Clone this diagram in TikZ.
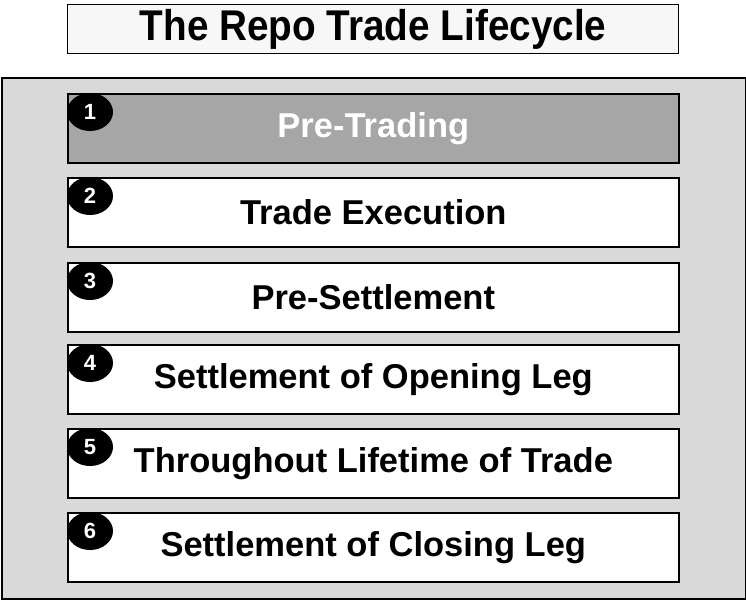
\documentclass[tikz,border=0pt]{standalone}
\usepackage{fontspec}
\setmainfont{Liberation Sans}
\usepackage{tikz}
\usetikzlibrary{positioning,shapes.geometric}

\definecolor{panelgray}{gray}{0.85}
\definecolor{stepgray}{gray}{0.65}

\tikzset{
  stagebox/.style={draw=black,line width=1.6pt,fill=white,minimum width=611pt,minimum height=69pt,
    inner sep=0pt,anchor=north west,font=\bfseries\fontsize{34.5}{38}\selectfont},
  badge/.style={ellipse,fill=black,text=white,minimum width=46pt,minimum height=38pt,inner sep=0pt,
    font=\bfseries\fontsize{22}{24}\selectfont}
}

\begin{document}
\begin{tikzpicture}[x=1pt,y=-1pt]

\useasboundingbox (0,0) rectangle (746,600) ;

\node[draw=black,line width=1.2pt,fill=white!97!black,minimum width=611pt,minimum height=49pt,inner sep=0pt,
  anchor=north west,font=\bfseries\fontsize{43}{46}\selectfont] (title) at (67,4) {\scalebox{0.9}[1]{The Repo Trade Lifecycle}} ;

\node[draw=black,line width=1.6pt,fill=panelgray,minimum width=744pt,minimum height=521pt,anchor=north west] (panel) at (1,77) {} ;

\node[stagebox,fill=stepgray,text=white] (s1) at (67,93) {Pre-Trading} ;
\node[stagebox] (s2) at (67,177) {Trade Execution} ;
\node[stagebox] (s3) at (67,262) {Pre-Settlement} ;
\node[stagebox] (s4) at (67,344) {Settlement of Opening Leg} ;
\node[stagebox] (s5) at (67,428) {Throughout Lifetime of Trade} ;
\node[stagebox] (s6) at (67,512) {Settlement of Closing Leg} ;

\foreach \n in {1,...,6}
  \node[badge] (b\n) at ([xshift=23pt,yshift=-19pt]s\n.north west) {\n} ;

\end{tikzpicture}
\end{document}
